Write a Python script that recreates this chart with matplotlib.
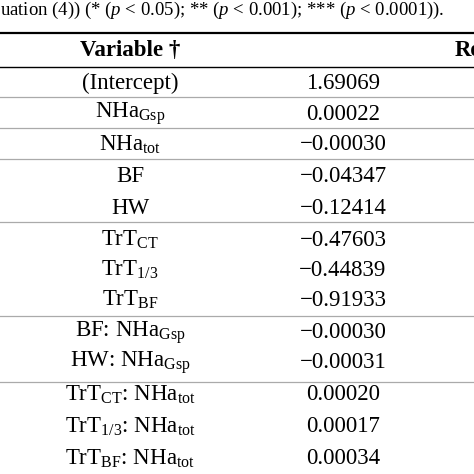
import matplotlib.pyplot as plt

plt.rcParams['mathtext.fontset'] = 'custom'
plt.rcParams['mathtext.rm'] = 'Liberation Serif'
plt.rcParams['mathtext.it'] = 'Liberation Serif:italic'
plt.rcParams['font.family'] = 'Liberation Serif'

title = r"uation (4)) (* ($\mathit{p}$ < 0.05); ** ($\mathit{p}$ < 0.001); *** ($\mathit{p}$ < 0.0001))."
variables = [
    "(Intercept)",
    r"NHa$_{\mathrm{Gsp}}$",
    r"NHa$_{\mathrm{tot}}$",
    "BF",
    "HW",
    r"TrT$_{\mathrm{CT}}$",
    r"TrT$_{\mathrm{1/3}}$",
    r"TrT$_{\mathrm{BF}}$",
    r"BF: NHa$_{\mathrm{Gsp}}$",
    r"HW: NHa$_{\mathrm{Gsp}}$",
    r"TrT$_{\mathrm{CT}}$: NHa$_{\mathrm{tot}}$",
    r"TrT$_{\mathrm{1/3}}$: NHa$_{\mathrm{tot}}$",
    r"TrT$_{\mathrm{BF}}$: NHa$_{\mathrm{tot}}$",
]
estimates = ["1.69069", "0.00022", "\u22120.00030", "\u22120.04347", "\u22120.12414",
             "\u22120.47603", "\u22120.44839", "\u22120.91933", "\u22120.00030",
             "\u22120.00031", "0.00020", "0.00017", "0.00034"]

row_y = [83, 114, 145, 177, 208, 240, 270, 300, 333, 363, 395, 427, 459]
sep_y = [97, 128, 159, 222, 316, 382]

fig = plt.figure(figsize=(4.74, 4.74), dpi=100)
ax = fig.add_axes([0, 0, 1, 1])
ax.set_xlim(0, 474)
ax.set_ylim(474, 0)
ax.axis('off')

ax.text(0, 10, title, fontsize=13.5, ha='left', va='center')
ax.axhline(33, color='black', lw=1.6)
ax.axhline(67, color='black', lw=1.0)
ax.text(130, 50, "Variable \u2020", fontsize=16.5, fontweight='bold', ha='center', va='center')
ax.text(455, 50, "Re", fontsize=16.5, fontweight='bold', ha='left', va='center', clip_on=True)

for y, v, e in zip(row_y, variables, estimates):
    ax.text(130, y, v, fontsize=16.5, ha='center', va='center')
    ax.text(343, y, e, fontsize=16.5, ha='center', va='center')
for y in sep_y:
    ax.axhline(y, color='#aaaaaa', lw=0.9)

fig.savefig("out.png", dpi=100)
